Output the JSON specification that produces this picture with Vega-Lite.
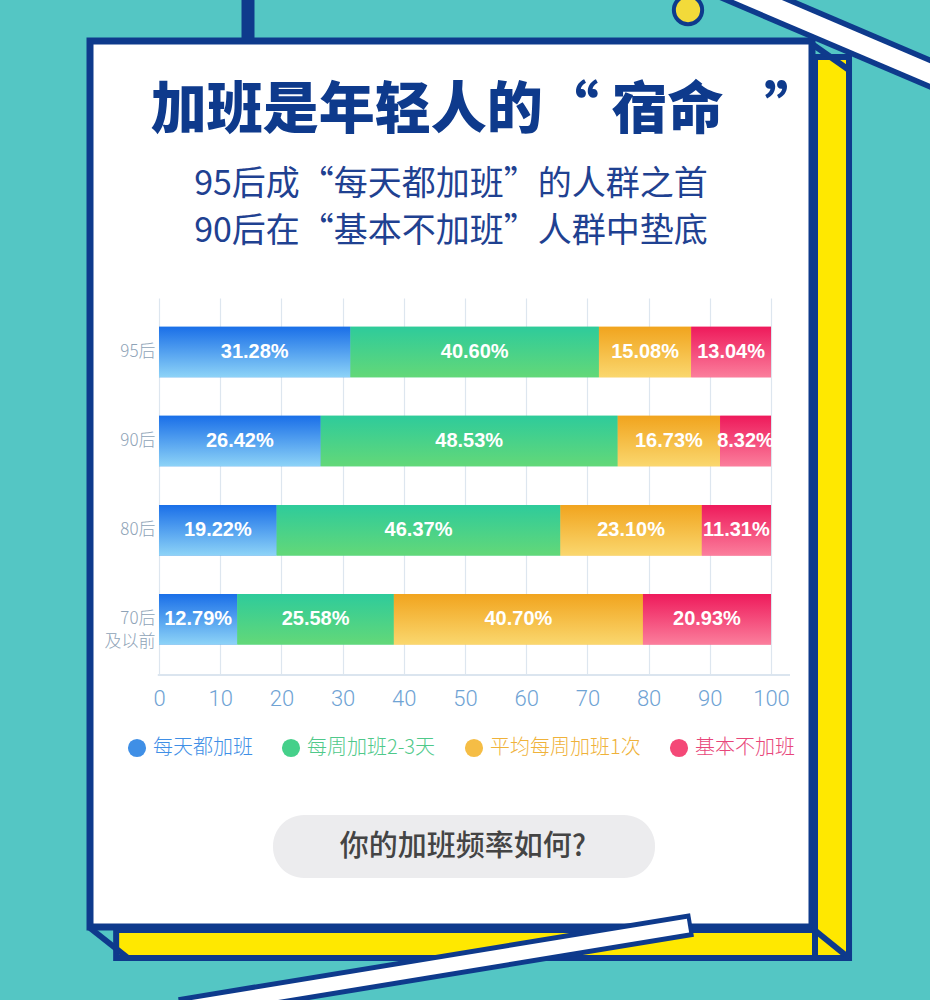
{
  "$schema": "https://vega.github.io/schema/vega-lite/v6.json",
  "width": 722,
  "height": 886,
  "autosize": {"type": "none"},
  "padding": {"left": 90, "top": 41, "right": 118, "bottom": 73},
  "background": "#54c6c4",
  "config": {
    "font": "Noto Sans CJK SC",
    "view": {"fill": "#ffffff", "stroke": "#0e3a8c", "strokeWidth": 7}
  },
  "title": {
    "text": "⠀\u2002加班是年轻人的“ 宿命 \u2002”",
    "subtitle": ["95后成“每天都加班”的人群之首", "90后在“基本不加班”人群中垫底"],
    "frame": "group",
    "anchor": "middle",
    "orient": "top",
    "offset": -279,
    "font": "Noto Sans CJK SC",
    "fontSize": 56,
    "fontWeight": 900,
    "color": "#0e3a8c",
    "subtitleFont": "Noto Sans CJK SC",
    "subtitleFontSize": 34,
    "subtitleFontWeight": 400,
    "subtitleColor": "#1f4191",
    "subtitleLineHeight": 47,
    "subtitlePadding": 28
  },
  "layer": [
    {
      "data": {"values": [{}]},
      "layer": [
        {
          "mark": {"type": "rule", "stroke": "#0e3a8c", "strokeWidth": 13},
          "encoding": {
            "x": {"datum": 0.14542, "type": "quantitative", "scale": {"domain": [-0.11275, 1.06698], "nice": false, "zero": false}, "title": null},
            "y": {"datum": -5.2, "type": "quantitative", "scale": {"domain": [0, 100], "reverse": true, "nice": false, "zero": false}, "axis": null},
            "y2": {"datum": 0}
          }
        },
        {
          "mark": {"type": "rect", "fill": "#ffe800", "stroke": "#0e3a8c", "strokeWidth": 6},
          "encoding": {
            "x": {"datum": -0.07, "type": "quantitative", "scale": {"domain": [-0.11275, 1.06698], "nice": false, "zero": false}, "title": null},
            "x2": {"datum": 1.12746},
            "y": {"datum": 100.339, "type": "quantitative", "scale": {"domain": [0, 100], "reverse": true, "nice": false, "zero": false}, "axis": null},
            "y2": {"datum": 103.499}
          }
        },
        {
          "mark": {"type": "rect", "fill": "#ffe800", "stroke": "#0e3a8c", "strokeWidth": 6},
          "encoding": {
            "x": {"datum": 1.0719, "type": "quantitative", "scale": {"domain": [-0.11275, 1.06698], "nice": false, "zero": false}, "title": null},
            "x2": {"datum": 1.12746},
            "y": {"datum": 1.8059, "type": "quantitative", "scale": {"domain": [0, 100], "reverse": true, "nice": false, "zero": false}, "axis": null},
            "y2": {"datum": 103.499}
          }
        },
        {
          "mark": {"type": "rule", "stroke": "#0e3a8c", "strokeWidth": 6},
          "encoding": {
            "x": {"datum": 1.067, "type": "quantitative", "scale": {"domain": [-0.11275, 1.06698], "nice": false, "zero": false}, "title": null},
            "x2": {"datum": 1.12746},
            "y": {"datum": 0.3386, "type": "quantitative", "scale": {"domain": [0, 100], "reverse": true, "nice": false, "zero": false}, "axis": null},
            "y2": {"datum": 3.2731}
          }
        },
        {
          "mark": {"type": "rule", "stroke": "#0e3a8c", "strokeWidth": 6},
          "encoding": {
            "x": {"datum": 1.067, "type": "quantitative", "scale": {"domain": [-0.11275, 1.06698], "nice": false, "zero": false}, "title": null},
            "x2": {"datum": 1.12746},
            "y": {"datum": 100.113, "type": "quantitative", "scale": {"domain": [0, 100], "reverse": true, "nice": false, "zero": false}, "axis": null},
            "y2": {"datum": 103.499}
          }
        },
        {
          "mark": {"type": "rule", "stroke": "#0e3a8c", "strokeWidth": 6},
          "encoding": {
            "x": {"datum": -0.11275, "type": "quantitative", "scale": {"domain": [-0.11275, 1.06698], "nice": false, "zero": false}, "title": null},
            "x2": {"datum": -0.05066},
            "y": {"datum": 100.113, "type": "quantitative", "scale": {"domain": [0, 100], "reverse": true, "nice": false, "zero": false}, "axis": null},
            "y2": {"datum": 103.499}
          }
        },
        {
          "mark": {"type": "rule", "stroke": "#0e3a8c", "strokeWidth": 30},
          "encoding": {
            "x": {"datum": 0.92484, "type": "quantitative", "scale": {"domain": [-0.11275, 1.06698], "nice": false, "zero": false}, "title": null},
            "x2": {"datum": 1.29249},
            "y": {"datum": -6.2, "type": "quantitative", "scale": {"domain": [0, 100], "reverse": true, "nice": false, "zero": false}, "axis": null},
            "y2": {"datum": 4.63}
          }
        },
        {
          "mark": {"type": "rule", "stroke": "#ffffff", "strokeWidth": 19},
          "encoding": {
            "x": {"datum": 0.92484, "type": "quantitative", "scale": {"domain": [-0.11275, 1.06698], "nice": false, "zero": false}, "title": null},
            "x2": {"datum": 1.29249},
            "y": {"datum": -6.2, "type": "quantitative", "scale": {"domain": [0, 100], "reverse": true, "nice": false, "zero": false}, "axis": null},
            "y2": {"datum": 4.63}
          }
        },
        {
          "mark": {"type": "point", "shape": "circle", "filled": true, "size": 800, "fill": "#f2da3a", "stroke": "#0e3a8c", "strokeWidth": 4, "opacity": 1},
          "encoding": {
            "x": {"datum": 0.86438, "type": "quantitative", "scale": {"domain": [-0.11275, 1.06698], "nice": false, "zero": false}, "title": null},
            "y": {"datum": -3.4989, "type": "quantitative", "scale": {"domain": [0, 100], "reverse": true, "nice": false, "zero": false}, "axis": null}
          }
        },
        {
          "mark": {"type": "rule", "stroke": "#0e3a8c", "strokeWidth": 24},
          "encoding": {
            "x": {"datum": 0.03431, "type": "quantitative", "scale": {"domain": [-0.11275, 1.06698], "nice": false, "zero": false}, "title": null},
            "x2": {"datum": 0.87092},
            "y": {"datum": 109.255, "type": "quantitative", "scale": {"domain": [0, 100], "reverse": true, "nice": false, "zero": false}, "axis": null},
            "y2": {"datum": 99.774}
          }
        },
        {
          "mark": {"type": "rule", "stroke": "#ffffff", "strokeWidth": 14},
          "encoding": {
            "x": {"datum": 0.03431, "type": "quantitative", "scale": {"domain": [-0.11275, 1.06698], "nice": false, "zero": false}, "title": null},
            "x2": {"datum": 0.86438},
            "y": {"datum": 109.255, "type": "quantitative", "scale": {"domain": [0, 100], "reverse": true, "nice": false, "zero": false}, "axis": null},
            "y2": {"datum": 99.853}
          }
        },
        {
          "mark": {"type": "rule", "stroke": "#dbe5ef", "strokeWidth": 2},
          "encoding": {
            "x": {"datum": -0.002, "type": "quantitative", "scale": {"domain": [-0.11275, 1.06698], "nice": false, "zero": false}, "title": null},
            "x2": {"datum": 1.031},
            "y": {"datum": 71.558, "type": "quantitative", "scale": {"domain": [0, 100], "reverse": true, "nice": false, "zero": false}, "axis": null}
          }
        },
        {
          "mark": {"type": "rect", "fill": "#ececee", "cornerRadius": 31},
          "encoding": {
            "x": {"datum": 0.18627, "type": "quantitative", "scale": {"domain": [-0.11275, 1.06698], "nice": false, "zero": false}, "title": null},
            "x2": {"datum": 0.81046},
            "y": {"datum": 87.359, "type": "quantitative", "scale": {"domain": [0, 100], "reverse": true, "nice": false, "zero": false}, "axis": null},
            "y2": {"datum": 94.47}
          }
        },
        {
          "mark": {"type": "text", "fontSize": 29, "fontWeight": 500, "fill": "#444444", "font": "Noto Sans CJK SC", "align": "center", "baseline": "middle"},
          "encoding": {
            "x": {"datum": 0.49673, "type": "quantitative", "scale": {"domain": [-0.11275, 1.06698], "nice": false, "zero": false}, "title": null},
            "y": {"datum": 90.971, "type": "quantitative", "scale": {"domain": [0, 100], "reverse": true, "nice": false, "zero": false}, "axis": null},
            "text": {"value": "你的加班频率如何?"}
          }
        }
      ]
    },
    {
      "data": {
        "values": [
          {"age": "95后", "cat": "每天都加班", "v": 0.3128},
          {"age": "95后", "cat": "每周加班2-3天", "v": 0.4060},
          {"age": "95后", "cat": "平均每周加班1次", "v": 0.1508},
          {"age": "95后", "cat": "基本不加班", "v": 0.1304},
          {"age": "90后", "cat": "每天都加班", "v": 0.2642},
          {"age": "90后", "cat": "每周加班2-3天", "v": 0.4853},
          {"age": "90后", "cat": "平均每周加班1次", "v": 0.1673},
          {"age": "90后", "cat": "基本不加班", "v": 0.0832},
          {"age": "80后", "cat": "每天都加班", "v": 0.1922},
          {"age": "80后", "cat": "每周加班2-3天", "v": 0.4637},
          {"age": "80后", "cat": "平均每周加班1次", "v": 0.2310},
          {"age": "80后", "cat": "基本不加班", "v": 0.1131},
          {"age": "70后及以前", "cat": "每天都加班", "v": 0.1279},
          {"age": "70后及以前", "cat": "每周加班2-3天", "v": 0.2558},
          {"age": "70后及以前", "cat": "平均每周加班1次", "v": 0.4070},
          {"age": "70后及以前", "cat": "基本不加班", "v": 0.2093}
        ]
      },
      "transform": [
        {"stack": "v", "groupby": ["age"], "sort": [{"field": "cat", "order": "descending"}], "as": ["v0", "v1"]}
      ],
      "layer": [
        {
          "mark": {"type": "bar"},
          "encoding": {
            "x": {
              "field": "v0", "type": "quantitative",
              "scale": {"domain": [-0.11275, 1.06698], "nice": false, "zero": false},
              "axis": {
                "orient": "bottom", "offset": -252, "title": null,
                "values": [0, 0.1, 0.2, 0.3, 0.4, 0.5, 0.6, 0.7, 0.8, 0.9, 1],
                "labelExpr": "format(datum.value*100, '.0f')",
                "domain": false, "grid": false, "ticks": true,
                "tickSize": -377, "tickColor": "#dde6ef", "tickWidth": 1.2,
                "labelPadding": 390, "labelFontSize": 22, "labelColor": "#6fa3d4",
                "labelFont": "Roboto", "labelFontWeight": 300,
                "labelFlush": false, "labelOverlap": false
              }
            },
            "x2": {"field": "v1"},
            "y": {
              "field": "age", "type": "nominal",
              "scale": {"domain": ["_t1", "_t2", "_t3", "95后", "90后", "80后", "70后及以前", "_b1", "_b2", "_b3"], "paddingInner": 0.433, "paddingOuter": 0.1885, "align": 0.548},
              "axis": {
                "orient": "left", "offset": -69, "title": null,
                "domain": false, "ticks": false, "grid": false,
                "labelPadding": 4, "labelFontSize": 17, "labelColor": "#8ea3b7",
                "labelFont": "Noto Sans CJK SC", "labelFontWeight": 300,
                "labelLineHeight": 23,
                "labelExpr": "indexof(datum.value, '_') == 0 ? '' : datum.value == '70后及以前' ? ['70后', '及以前'] : datum.value"
              }
            },
            "color": {
              "field": "cat", "type": "nominal",
              "scale": {
                "domain": ["每天都加班", "每周加班2-3天", "平均每周加班1次", "基本不加班"],
                "range": ["#3f8fe6", "#45d08a", "#f5bd45", "#f44877"]
              },
              "legend": {
                "orient": "none", "legendX": 37, "legendY": 697,
                "direction": "horizontal", "columns": 4, "title": null,
                "symbolType": "circle", "symbolSize": 330, "symbolStrokeWidth": 0,
                "labelFontSize": 20, "labelFont": "Noto Sans CJK SC", "labelFontWeight": 300,
                "labelOffset": 6, "columnPadding": 28, "labelLimit": 300, "padding": 0,
                "encode": {
                  "labels": {
                    "update": {
                      "fill": {"signal": "datum.value == '每天都加班' ? '#3f8fe6' : datum.value == '每周加班2-3天' ? '#4fc98a' : datum.value == '平均每周加班1次' ? '#efb23a' : '#e8467a'"}
                    }
                  }
                }
              }
            }
          }
        },
        {
          "transform": [{"filter": "datum.cat == '每天都加班'"}],
          "mark": {"type": "bar", "fill": {"gradient": "linear", "x1": 0, "y1": 0, "x2": 0, "y2": 1, "stops": [{"offset": 0, "color": "#1a6fe8"}, {"offset": 1, "color": "#8dd3f7"}]}},
          "encoding": {
            "x": {"field": "v0", "type": "quantitative", "scale": {"domain": [-0.11275, 1.06698], "nice": false, "zero": false}},
            "x2": {"field": "v1"},
            "y": {"field": "age", "type": "nominal", "scale": {"domain": ["_t1", "_t2", "_t3", "95后", "90后", "80后", "70后及以前", "_b1", "_b2", "_b3"], "paddingInner": 0.433, "paddingOuter": 0.1885, "align": 0.548}}
          }
        },
        {
          "transform": [{"filter": "datum.cat == '每周加班2-3天'"}],
          "mark": {"type": "bar", "fill": {"gradient": "linear", "x1": 0, "y1": 0, "x2": 0, "y2": 1, "stops": [{"offset": 0, "color": "#2ecb9b"}, {"offset": 1, "color": "#63d878"}]}},
          "encoding": {
            "x": {"field": "v0", "type": "quantitative", "scale": {"domain": [-0.11275, 1.06698], "nice": false, "zero": false}},
            "x2": {"field": "v1"},
            "y": {"field": "age", "type": "nominal", "scale": {"domain": ["_t1", "_t2", "_t3", "95后", "90后", "80后", "70后及以前", "_b1", "_b2", "_b3"], "paddingInner": 0.433, "paddingOuter": 0.1885, "align": 0.548}}
          }
        },
        {
          "transform": [{"filter": "datum.cat == '平均每周加班1次'"}],
          "mark": {"type": "bar", "fill": {"gradient": "linear", "x1": 0, "y1": 0, "x2": 0, "y2": 1, "stops": [{"offset": 0, "color": "#f1a41e"}, {"offset": 1, "color": "#fad76e"}]}},
          "encoding": {
            "x": {"field": "v0", "type": "quantitative", "scale": {"domain": [-0.11275, 1.06698], "nice": false, "zero": false}},
            "x2": {"field": "v1"},
            "y": {"field": "age", "type": "nominal", "scale": {"domain": ["_t1", "_t2", "_t3", "95后", "90后", "80后", "70后及以前", "_b1", "_b2", "_b3"], "paddingInner": 0.433, "paddingOuter": 0.1885, "align": 0.548}}
          }
        },
        {
          "transform": [{"filter": "datum.cat == '基本不加班'"}],
          "mark": {"type": "bar", "fill": {"gradient": "linear", "x1": 0, "y1": 0, "x2": 0, "y2": 1, "stops": [{"offset": 0, "color": "#ee1a5b"}, {"offset": 1, "color": "#fb7e9c"}]}},
          "encoding": {
            "x": {"field": "v0", "type": "quantitative", "scale": {"domain": [-0.11275, 1.06698], "nice": false, "zero": false}},
            "x2": {"field": "v1"},
            "y": {"field": "age", "type": "nominal", "scale": {"domain": ["_t1", "_t2", "_t3", "95后", "90后", "80后", "70后及以前", "_b1", "_b2", "_b3"], "paddingInner": 0.433, "paddingOuter": 0.1885, "align": 0.548}}
          }
        },
        {
          "transform": [
            {"fold": ["v0", "v1"], "as": ["k", "edge"]},
            {"aggregate": [{"op": "mean", "field": "edge", "as": "mid"}], "groupby": ["age", "cat", "v"]}
          ],
          "mark": {"type": "text", "font": "Liberation Sans", "fontWeight": "bold", "fontSize": 20, "fill": "#ffffff", "align": "center", "baseline": "middle"},
          "encoding": {
            "x": {"field": "mid", "type": "quantitative", "scale": {"domain": [-0.11275, 1.06698], "nice": false, "zero": false}, "title": null},
            "y": {"field": "age", "type": "nominal", "scale": {"domain": ["_t1", "_t2", "_t3", "95后", "90后", "80后", "70后及以前", "_b1", "_b2", "_b3"], "paddingInner": 0.433, "paddingOuter": 0.1885, "align": 0.548}},
            "text": {"field": "v", "type": "quantitative", "format": ".2%"}
          }
        }
      ]
    }
  ],
  "resolve": {"scale": {"y": "independent"}}
}
